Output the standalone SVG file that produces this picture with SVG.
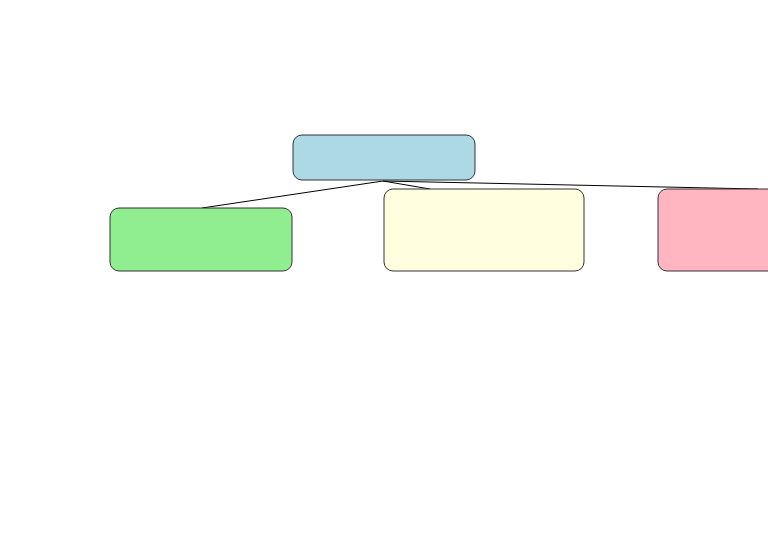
<svg xmlns="http://www.w3.org/2000/svg" width="768" height="543" viewBox="0 0 768 543">
<style>
.node{stroke:#333;stroke-width:1}
.edge{stroke:#000;stroke-width:1;fill:none}
</style>
<rect width="768" height="543" fill="#fff"/>
<g id="connectors">
<line class="edge" x1="383" y1="181" x2="202" y2="208"/>
<line class="edge" x1="383" y1="181" x2="430" y2="189"/>
<line class="edge" x1="383" y1="181" x2="758" y2="189"/>
</g>
<g id="root"><rect class="node" x="293" y="135" width="182" height="45" rx="9" fill="#ADD8E6"/></g>
<g id="child-green"><rect class="node" x="110" y="208" width="182" height="63" rx="9" fill="#90EE90"/></g>
<g id="child-yellow"><rect class="node" x="384" y="189" width="200" height="82" rx="9" fill="#FFFFE0"/></g>
<g id="child-pink"><rect class="node" x="658" y="189" width="200" height="82" rx="9" fill="#FFB6C1"/></g>
</svg>
